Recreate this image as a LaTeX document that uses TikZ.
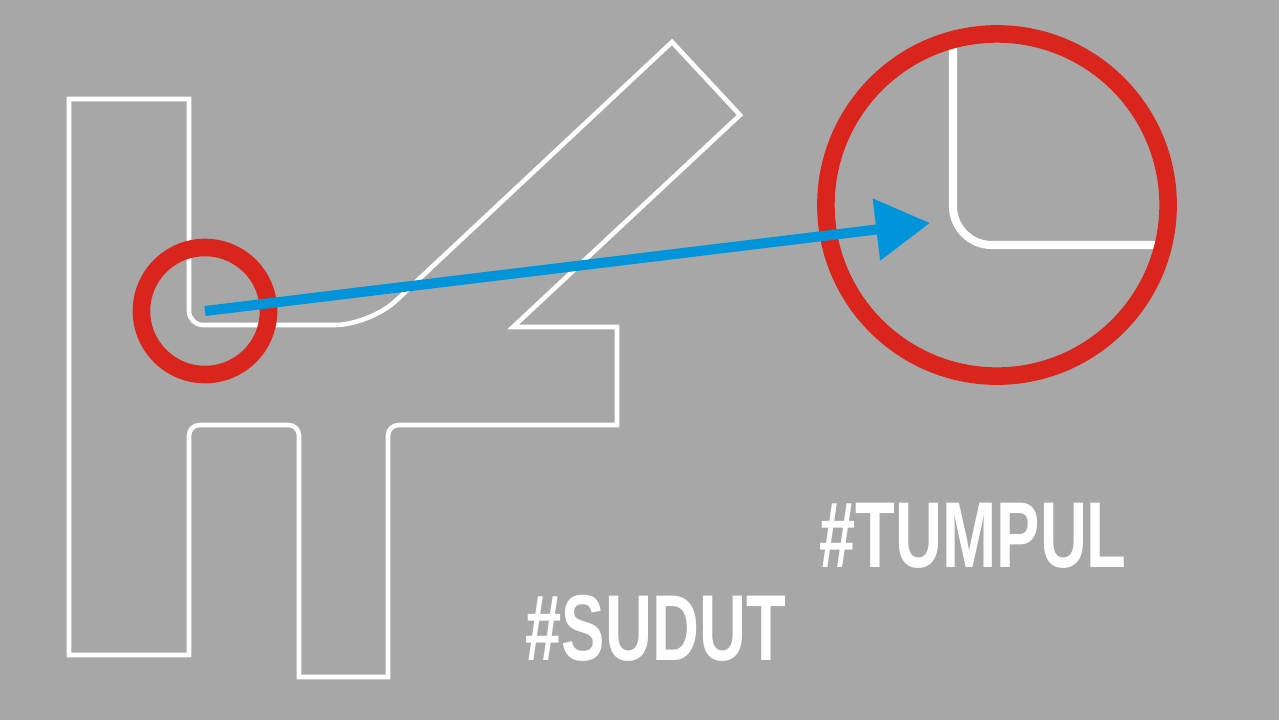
\documentclass[tikz,border=0pt]{standalone}
\usepackage{fontspec}
\usepackage{graphicx}
\newfontfamily\tagfont{Liberation Sans}
\usetikzlibrary{arrows.meta}
\definecolor{bggray}{HTML}{A7A7A7}
\definecolor{ringred}{HTML}{DA251D}
\definecolor{arrowblue}{HTML}{0094DB}
\tikzset{
	outline/.style={draw=white, line width=1.3pt},
	ring/.style={circle, draw=ringred, line width=5pt, inner sep=0pt},
	tag/.style={text=white, inner sep=0pt, anchor=base west, font=\tagfont\bfseries\fontsize{26.6}{30}\selectfont}
}

\begin{document}
\begin{tikzpicture}[x=0.01cm, y=-0.01cm, pointer/.style={-{Triangle[length=0.54cm, width=0.6cm]}, draw=arrowblue, line width=2.85pt}]

	\fill[bggray] (0,0) rectangle (1279,720);

	% letter outline
	\draw[outline] (69,99) -- (189,99) [rounded corners=4pt] -- (189,325) [rounded corners=10pt] -- (370,325) [sharp corners] -- (672,42) -- (740,115) -- (513,327) -- (617,327) -- (617,425) [rounded corners=3pt] -- (388,425) [sharp corners] -- (388,677) -- (299,677) [rounded corners=3pt] -- (299,425) -- (189,425) [sharp corners] -- (189,655) -- (69,655) -- cycle;

	% blunt corner, enlarged
	\draw[outline, line width=2.3pt, rounded corners=11pt] (953,44) -- (953,245) -- (1160,245);

	\node[ring, minimum size=1.27cm] (corner) at (205,311) {};
	\node[ring, minimum size=3.42cm] (zoom) at (997,205) {};

	\coordinate (tip) at (930,223);
	\draw[pointer] (corner.center) -- (tip);

	\node[tag] (tumpul) at (819,567) {\scalebox{0.695}[1]{\#TUMPUL}};
	\node[tag] (sudut) at (525,660) {\scalebox{0.695}[1]{\#SUDUT}};

\end{tikzpicture}
\end{document}
